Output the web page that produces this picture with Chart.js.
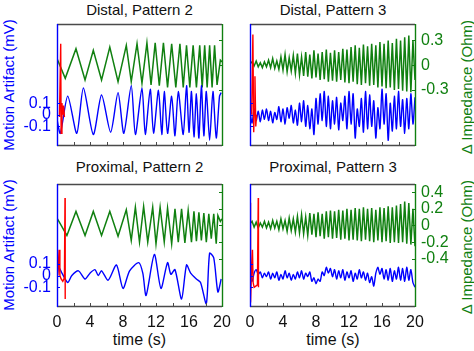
<!DOCTYPE html>
<html>
<head>
<meta charset="utf-8">
<script src="https://cdn.jsdelivr.net/npm/chart.js@4.4.1/dist/chart.umd.min.js"></script>
<style>
  html, body { margin: 0; padding: 0; background: #fff; }
  body { width: 474px; height: 351px; position: relative; overflow: hidden; font-family: "Liberation Sans", Arial, sans-serif; }
  canvas { position: absolute; }
  .label { position: absolute; white-space: nowrap; line-height: 1; transform: translate(-50%, -50%); color: #111; font-size: 15px; }
  .xlabel { font-size: 16px; }
  .vert { transform: translate(-50%, -50%) rotate(-90deg); }
  .blue { color: #0000ff; }
  .green { color: #108010; }
</style>
</head>
<body>
<div class="label" style="left:139.5px; top:8.5px">Distal, Pattern 2</div>
<div class="label" style="left:333px; top:8.5px">Distal, Pattern 3</div>
<div class="label" style="left:139.5px; top:166px">Proximal, Pattern 2</div>
<div class="label" style="left:333px; top:166px">Proximal, Pattern 3</div>
<div class="label xlabel" style="left:139.5px; top:340px">time (s)</div>
<div class="label xlabel" style="left:333px; top:340px">time (s)</div>
<div class="label vert blue" style="left:8px; top:85px">Motion Artifact (mV)</div>
<div class="label vert blue" style="left:8px; top:245px">Motion Artifact (mV)</div>
<div class="label vert green" style="left:466px; top:87px">Δ Impedance (Ohm)</div>
<div class="label vert green" style="left:466px; top:247px">Δ Impedance (Ohm)</div>

<canvas id="distal2"></canvas>
<canvas id="distal3"></canvas>
<canvas id="proximal2"></canvas>
<canvas id="proximal3"></canvas>

<script>
// ticks
const timeTicks = [0, 4, 8, 12, 16, 20];
const timeMinorTicks = [2, 4, 6, 8, 10, 12, 14, 16, 18];
const artifactTicks = [-0.1, 0, 0.1];
const distalImpTicks = [-0.3, 0, 0.3];
const proximalImpTicks = [-0.4, -0.2, 0, 0.2, 0.4];

// Distal, pattern 2
const distal2ImpTime = [0, 1.0, 2.3, 3.4, 4.4, 5.4, 6.4, 7.4, 8.4, 9.0, 9.7, 10.3, 10.9, 11.4, 11.9, 12.4, 12.9, 13.4,
  13.9, 14.4, 14.9, 15.3, 15.7, 16.1, 16.5, 16.9, 17.3, 17.6, 17.9, 18.2, 18.5, 18.8, 19.1, 19.4, 19.8, 20];
const distal2Imp = [0.08, -0.16, 0.2, -0.18, 0.18, -0.18, 0.22, -0.2, 0.24, -0.2, 0.26, -0.22, 0.27, -0.24, 0.27, -0.25, 0.27, -0.27,
  0.26, -0.27, 0.26, -0.27, 0.24, -0.27, 0.24, -0.27, 0.24, -0.27, 0.24, -0.27, 0.24, -0.27, 0.24, -0.24, 0.06, 0.04];
const distal2ArtTime = [0, 0.4, 1.3, 2.4, 3.2, 4.4, 5.4, 6.5, 7.4, 8.1, 9.0, 9.5, 10.3, 10.7, 11.3, 11.7,
  12.3, 12.7, 13.0, 13.4, 13.9, 14.3, 14.7, 15.3, 15.7, 16.0, 16.3, 16.6, 16.9, 17.2, 17.5, 17.8, 18.1, 18.5, 18.9, 19.3, 19.7, 19.9];
const distal2Art = [-0.04, -0.16, 0.16, -0.16, 0.23, -0.17, 0.17, -0.15, 0.19, -0.16, 0.25, -0.17, 0.23, -0.17, 0.22, -0.16,
  0.21, -0.17, 0.2, -0.16, 0.16, -0.18, 0.2, -0.17, 0.25, -0.15, 0.2, -0.19, 0.18, -0.2, 0.25, -0.18, 0.2, -0.22, 0.2, -0.2, 0.16, 0.19];
const distal2RedTime = [0.3, 0.45, 0.5, 0.6, 0.7, 0.8, 0.9];
const distal2Red = [-0.02, 0.61, -0.16, 0.1, 0.0, 0.08, -0.02];

// pattern 3 sample times (both panels)
const p3Time = [0, 0.25, 0.5, 0.75, 1, 1.25, 1.5, 1.75, 2, 2.25, 2.5, 2.75, 3, 3.25, 3.5, 3.75,
  4, 4.25, 4.5, 4.75, 5, 5.25, 5.5, 5.75, 6, 6.25, 6.5, 6.75, 7, 7.25, 7.5, 7.75,
  8, 8.25, 8.5, 8.75, 9, 9.25, 9.5, 9.75, 10, 10.25, 10.5, 10.75, 11, 11.25, 11.5, 11.75,
  12, 12.25, 12.5, 12.75, 13, 13.25, 13.5, 13.75, 14, 14.25, 14.5, 14.75, 15, 15.25, 15.5, 15.75,
  16, 16.25, 16.5, 16.75, 17, 17.25, 17.5, 17.75, 18, 18.25, 18.5, 18.75, 19, 19.25, 19.5, 19.75, 20];

// Distal, pattern 3
const distal3Imp = [0.02, 0.04, -0.01, 0.05, -0.02, 0.03, -0.03, 0.04,
  -0.02, 0.06, -0.03, 0.08, -0.04, 0.05, -0.05, 0.1,
  -0.06, 0.13, -0.08, 0.09, -0.07, 0.12, -0.1, 0.14,
  -0.12, 0.1, -0.13, 0.16, -0.14, 0.13, -0.16, 0.18,
  -0.15, 0.14, -0.18, 0.16, -0.17, 0.19, -0.2, 0.15,
  -0.19, 0.18, -0.2, 0.16, -0.18, 0.2, -0.21, 0.19,
  -0.22, 0.22, -0.2, 0.24, -0.23, 0.21, -0.24, 0.25,
  -0.22, 0.23, -0.25, 0.26, -0.24, 0.24, -0.27, 0.28,
  -0.26, 0.26, -0.28, 0.3, -0.27, 0.27, -0.3, 0.32,
  -0.29, 0.3, -0.31, 0.34, -0.32, 0.36, -0.33, 0.3,
  -0.18];
const distal3Art = [0.02, -0.07, 0.05, -0.05, 0.03, -0.06, 0.04, -0.04,
  0.05, -0.05, 0.03, -0.07, 0.02, -0.04, 0.07, -0.06,
  0.05, -0.08, 0.06, -0.03, 0.08, -0.07, 0.04, -0.09,
  0.1, -0.06, 0.12, -0.1, 0.08, -0.12, 0.05, -0.17,
  0.14, -0.08, 0.18, -0.05, 0.2, -0.1, 0.16, -0.12,
  0.12, -0.08, 0.15, -0.13, 0.1, -0.05, 0.16, -0.12,
  0.2, -0.08, 0.18, -0.2, 0.05, -0.1, 0.14, -0.15,
  0.2, -0.12, 0.17, -0.1, 0.12, -0.2, 0.06, -0.12,
  0.22, -0.08, 0.18, -0.22, 0.1, -0.14, 0.16, -0.12,
  0.2, -0.1, 0.13, -0.16, 0.14, -0.12, 0.18, -0.08,
  0.15];
const distal3RedTime = [0.2, 0.35, 0.45, 0.5, 0.6, 0.7, 0.8];
const distal3Red = [0.0, 0.69, -0.15, 0.0, 0.33, -0.1, 0.0];

// Proximal, pattern 2
const proximal2ImpTime = [0, 1.2, 2.3, 3.4, 4.4, 5.4, 6.4, 7.4, 8.4, 9.0, 9.5, 10.0, 10.5, 11.0, 11.6, 12.0, 12.5, 13.0, 13.4,
  13.9, 14.3, 14.7, 15.1, 15.5, 15.9, 16.3, 16.6, 16.9, 17.2, 17.5, 17.8, 18.1, 18.4, 18.7, 19.0, 19.3, 19.5, 19.8, 20];
const proximal2Imp = [0.09, -0.12, 0.17, -0.12, 0.17, -0.12, 0.17, -0.13, 0.19, -0.18, 0.22, -0.2, 0.23, -0.2, 0.22, -0.22, 0.22, -0.2, 0.21,
  -0.22, 0.2, -0.2, 0.2, -0.21, 0.18, -0.2, 0.17, -0.19, 0.16, -0.18, 0.15, -0.2, 0.14, -0.16, 0.14, -0.22, 0.12, 0.05, 0.08];
const proximal2ArtTime = [0, 0.2, 0.6, 1.3, 1.8, 2.6, 3.4, 4.0, 4.6, 5.0, 5.4, 6.2, 7.2, 8.0, 8.8, 9.9, 10.4,
  10.8, 11.8, 12.6, 13.4, 13.8, 14.3, 15.1, 15.7, 16.2, 16.9, 17.4, 18.1, 18.5, 19.0, 19.5, 19.9];
const proximal2Art = [0, 0.07, 0.02, -0.06, 0.0, 0.04, -0.03, 0.02, 0.05, 0.0, 0.04, -0.04, 0.09, -0.11, 0.04, 0.11, 0.02,
  -0.17, 0.18, -0.11, 0.11, 0.01, 0.05, -0.2, 0.09, 0.02, -0.03, -0.06, -0.24, 0.19, 0.15, -0.14, -0.03];
const proximal2RedTime = [0.1, 0.25, 0.35, 0.5, 0.7, 0.9, 0.97, 0.97, 1.02];
const proximal2Red = [0.0, 0.22, 0.0, -0.03, -0.05, -0.02, 0.66, -0.2, -0.02];

// Proximal, pattern 3
const proximal3Imp = [0.02, 0.05, -0.02, 0.04, -0.03, 0.03, -0.02, 0.05,
  -0.03, 0.04, -0.04, 0.06, -0.03, 0.05, -0.05, 0.08,
  -0.04, 0.06, -0.07, 0.09, -0.06, 0.08, -0.08, 0.11,
  -0.09, 0.13, -0.1, 0.1, -0.12, 0.15, -0.11, 0.14,
  -0.14, 0.16, -0.13, 0.14, -0.16, 0.17, -0.14, 0.18,
  -0.16, 0.17, -0.15, 0.19, -0.17, 0.18, -0.16, 0.2,
  -0.18, 0.19, -0.17, 0.21, -0.18, 0.2, -0.19, 0.22,
  -0.17, 0.2, -0.19, 0.21, -0.2, 0.19, -0.18, 0.22,
  -0.2, 0.21, -0.19, 0.23, -0.21, 0.22, -0.2, 0.24,
  -0.21, 0.26, -0.2, 0.29, -0.22, 0.27, -0.23, 0.2,
  -0.25];
const proximal3Art = [-0.02, -0.05, 0.02, 0.05, 0.01, 0.03, -0.02, 0.02,
  -0.01, 0.03, -0.03, 0.02, -0.02, 0.03, -0.04, 0.01,
  -0.03, 0.04, -0.02, 0.02, -0.04, 0.01, -0.03, 0.03,
  -0.02, 0.04, -0.03, 0.02, -0.01, 0.03, -0.05, -0.02,
  -0.07, -0.03, -0.05, 0.03, 0.0, 0.07, 0.02, 0.06,
  -0.01, 0.05, -0.03, 0.04, -0.02, 0.05, -0.04, 0.03,
  -0.02, 0.04, -0.05, 0.02, -0.03, 0.05, -0.02, 0.03,
  -0.04, 0.02, -0.06, -0.01, -0.09, 0.02, 0.07, 0.01,
  0.06, -0.03, 0.05, -0.04, 0.06, -0.05, 0.04, -0.03,
  0.07, -0.04, 0.06, -0.05, 0.07, -0.04, 0.05, -0.06,
  -0.1];
const proximal3RedTime = [0.02, 0.05, 0.08, 0.15, 0.3, 0.38, 0.5, 0.7, 0.9, 1.0, 1.0, 1.05];
const proximal3Red = [0, 0.62, -0.23, -0.04, 0.22, -0.06, -0.1, -0.09, -0.08, 0.66, -0.1, -0.06];

const colors = {
  artifact: "#0000ff",
  impedance: "#108010",
  trigger: "#ff0000",
  frame: "#4a4a4a"
};

Chart.defaults.font.family = '"Liberation Sans", Arial, sans-serif';
Chart.defaults.font.size = 16;

function points(times, values) {
  return times.map((t, i) => ({ x: t, y: values[i] }));
}

const framePlugin = {
  id: "frame",
  afterDatasetsDraw(chart, args, opts) {
    const { ctx, chartArea: area, scales } = chart;
    const seg = (x1, y1, x2, y2, color, width) => {
      ctx.beginPath();
      ctx.strokeStyle = color;
      ctx.lineWidth = width;
      ctx.moveTo(x1, y1);
      ctx.lineTo(x2, y2);
      ctx.stroke();
    };
    ctx.save();
    timeMinorTicks.forEach((v) => {
      const x = Math.round(scales.x.getPixelForValue(v)) + 0.5;
      seg(x, area.bottom, x, area.bottom - 3, colors.frame, 1);
    });
    artifactTicks.forEach((v) => {
      const y = Math.round(scales.yL.getPixelForValue(v)) + 0.5;
      seg(area.left, y, area.left + 3, y, colors.artifact, 1);
    });
    opts.impTicks.forEach((v) => {
      const y = Math.round(scales.yR.getPixelForValue(v)) + 0.5;
      seg(area.right, y, area.right - 3, y, colors.impedance, 1);
    });
    seg(area.left, area.top + 0.5, area.right, area.top + 0.5, colors.frame, 1.4);
    seg(area.left, area.bottom + 0.5, area.right, area.bottom + 0.5, colors.frame, 1.4);
    seg(area.left + 0.5, area.top, area.left + 0.5, area.bottom + 1, colors.artifact, 1.4);
    seg(area.right + 0.5, area.top, area.right + 0.5, area.bottom + 1, colors.impedance, 1.4);
    ctx.restore();
  }
};

const plotWidth = 165;
const axisWidth = 45;
const padTop = 8;

function makePanel(id, cfg) {
  const canvas = document.getElementById(id);
  const xHeight = cfg.showX ? 30 : 8;
  canvas.width = axisWidth * 2 + plotWidth;
  canvas.height = padTop + cfg.plotH + xHeight;
  canvas.style.left = `${cfg.left - axisWidth}px`;
  canvas.style.top = `${cfg.top - padTop}px`;

  new Chart(canvas, {
    type: "line",
    data: {
      datasets: [
        {
          data: points(cfg.redTime, cfg.red),
          borderColor: colors.trigger,
          borderWidth: 1.4,
          pointRadius: 0,
          yAxisID: "yL"
        },
        {
          data: points(cfg.artTime, cfg.art),
          borderColor: colors.artifact,
          borderWidth: 1.4,
          pointRadius: 0,
          tension: 0.25,
          yAxisID: "yL"
        },
        {
          data: points(cfg.impTime, cfg.imp),
          borderColor: colors.impedance,
          borderWidth: 1.5,
          pointRadius: 0,
          yAxisID: "yR"
        }
      ]
    },
    options: {
      responsive: false,
      animation: false,
      layout: { padding: { top: padTop, left: 0, right: 0, bottom: 0 } },
      plugins: {
        legend: { display: false },
        tooltip: { enabled: false },
        frame: { impTicks: cfg.impTicks }
      },
      scales: {
        x: {
          type: "linear",
          min: 0,
          max: 20,
          grid: { display: false, drawTicks: false },
          border: { display: false },
          ticks: { display: cfg.showX, color: "#111", padding: 7, maxRotation: 0, autoSkip: false },
          afterBuildTicks: (s) => { s.ticks = timeTicks.map((v) => ({ value: v })); },
          afterFit: (s) => { s.height = xHeight; s.paddingLeft = 0; s.paddingRight = 0; }
        },
        yL: {
          type: "linear",
          position: "left",
          min: -0.26,
          max: 0.78,
          grid: { display: false, drawTicks: false },
          border: { display: false },
          ticks: { display: cfg.showLeft, color: colors.artifact, padding: 6, callback: (v) => String(v) },
          afterBuildTicks: (s) => { s.ticks = artifactTicks.map((v) => ({ value: v })); },
          afterFit: (s) => { s.width = axisWidth; s.paddingTop = 0; s.paddingBottom = 0; }
        },
        yR: {
          type: "linear",
          position: "right",
          min: -0.97,
          max: 0.5,
          grid: { display: false, drawTicks: false },
          border: { display: false },
          ticks: { display: cfg.showRight, color: colors.impedance, padding: 6, callback: (v) => String(v) },
          afterBuildTicks: (s) => { s.ticks = cfg.impTicks.map((v) => ({ value: v })); },
          afterFit: (s) => { s.width = axisWidth; s.paddingTop = 0; s.paddingBottom = 0; }
        }
      }
    },
    plugins: [framePlugin]
  });
}

makePanel("distal2", {
  left: 57, top: 24, plotH: 121, showX: false, showLeft: true, showRight: false,
  impTime: distal2ImpTime, imp: distal2Imp, artTime: distal2ArtTime, art: distal2Art,
  redTime: distal2RedTime, red: distal2Red, impTicks: distalImpTicks
});
makePanel("distal3", {
  left: 250, top: 24, plotH: 121, showX: false, showLeft: false, showRight: true,
  impTime: p3Time, imp: distal3Imp, artTime: p3Time, art: distal3Art,
  redTime: distal3RedTime, red: distal3Red, impTicks: distalImpTicks
});
makePanel("proximal2", {
  left: 57, top: 184, plotH: 122, showX: true, showLeft: true, showRight: false,
  impTime: proximal2ImpTime, imp: proximal2Imp, artTime: proximal2ArtTime, art: proximal2Art,
  redTime: proximal2RedTime, red: proximal2Red, impTicks: proximalImpTicks
});
makePanel("proximal3", {
  left: 250, top: 184, plotH: 122, showX: true, showLeft: false, showRight: true,
  impTime: p3Time, imp: proximal3Imp, artTime: p3Time, art: proximal3Art,
  redTime: proximal3RedTime, red: proximal3Red, impTicks: proximalImpTicks
});
</script>
</body>
</html>
